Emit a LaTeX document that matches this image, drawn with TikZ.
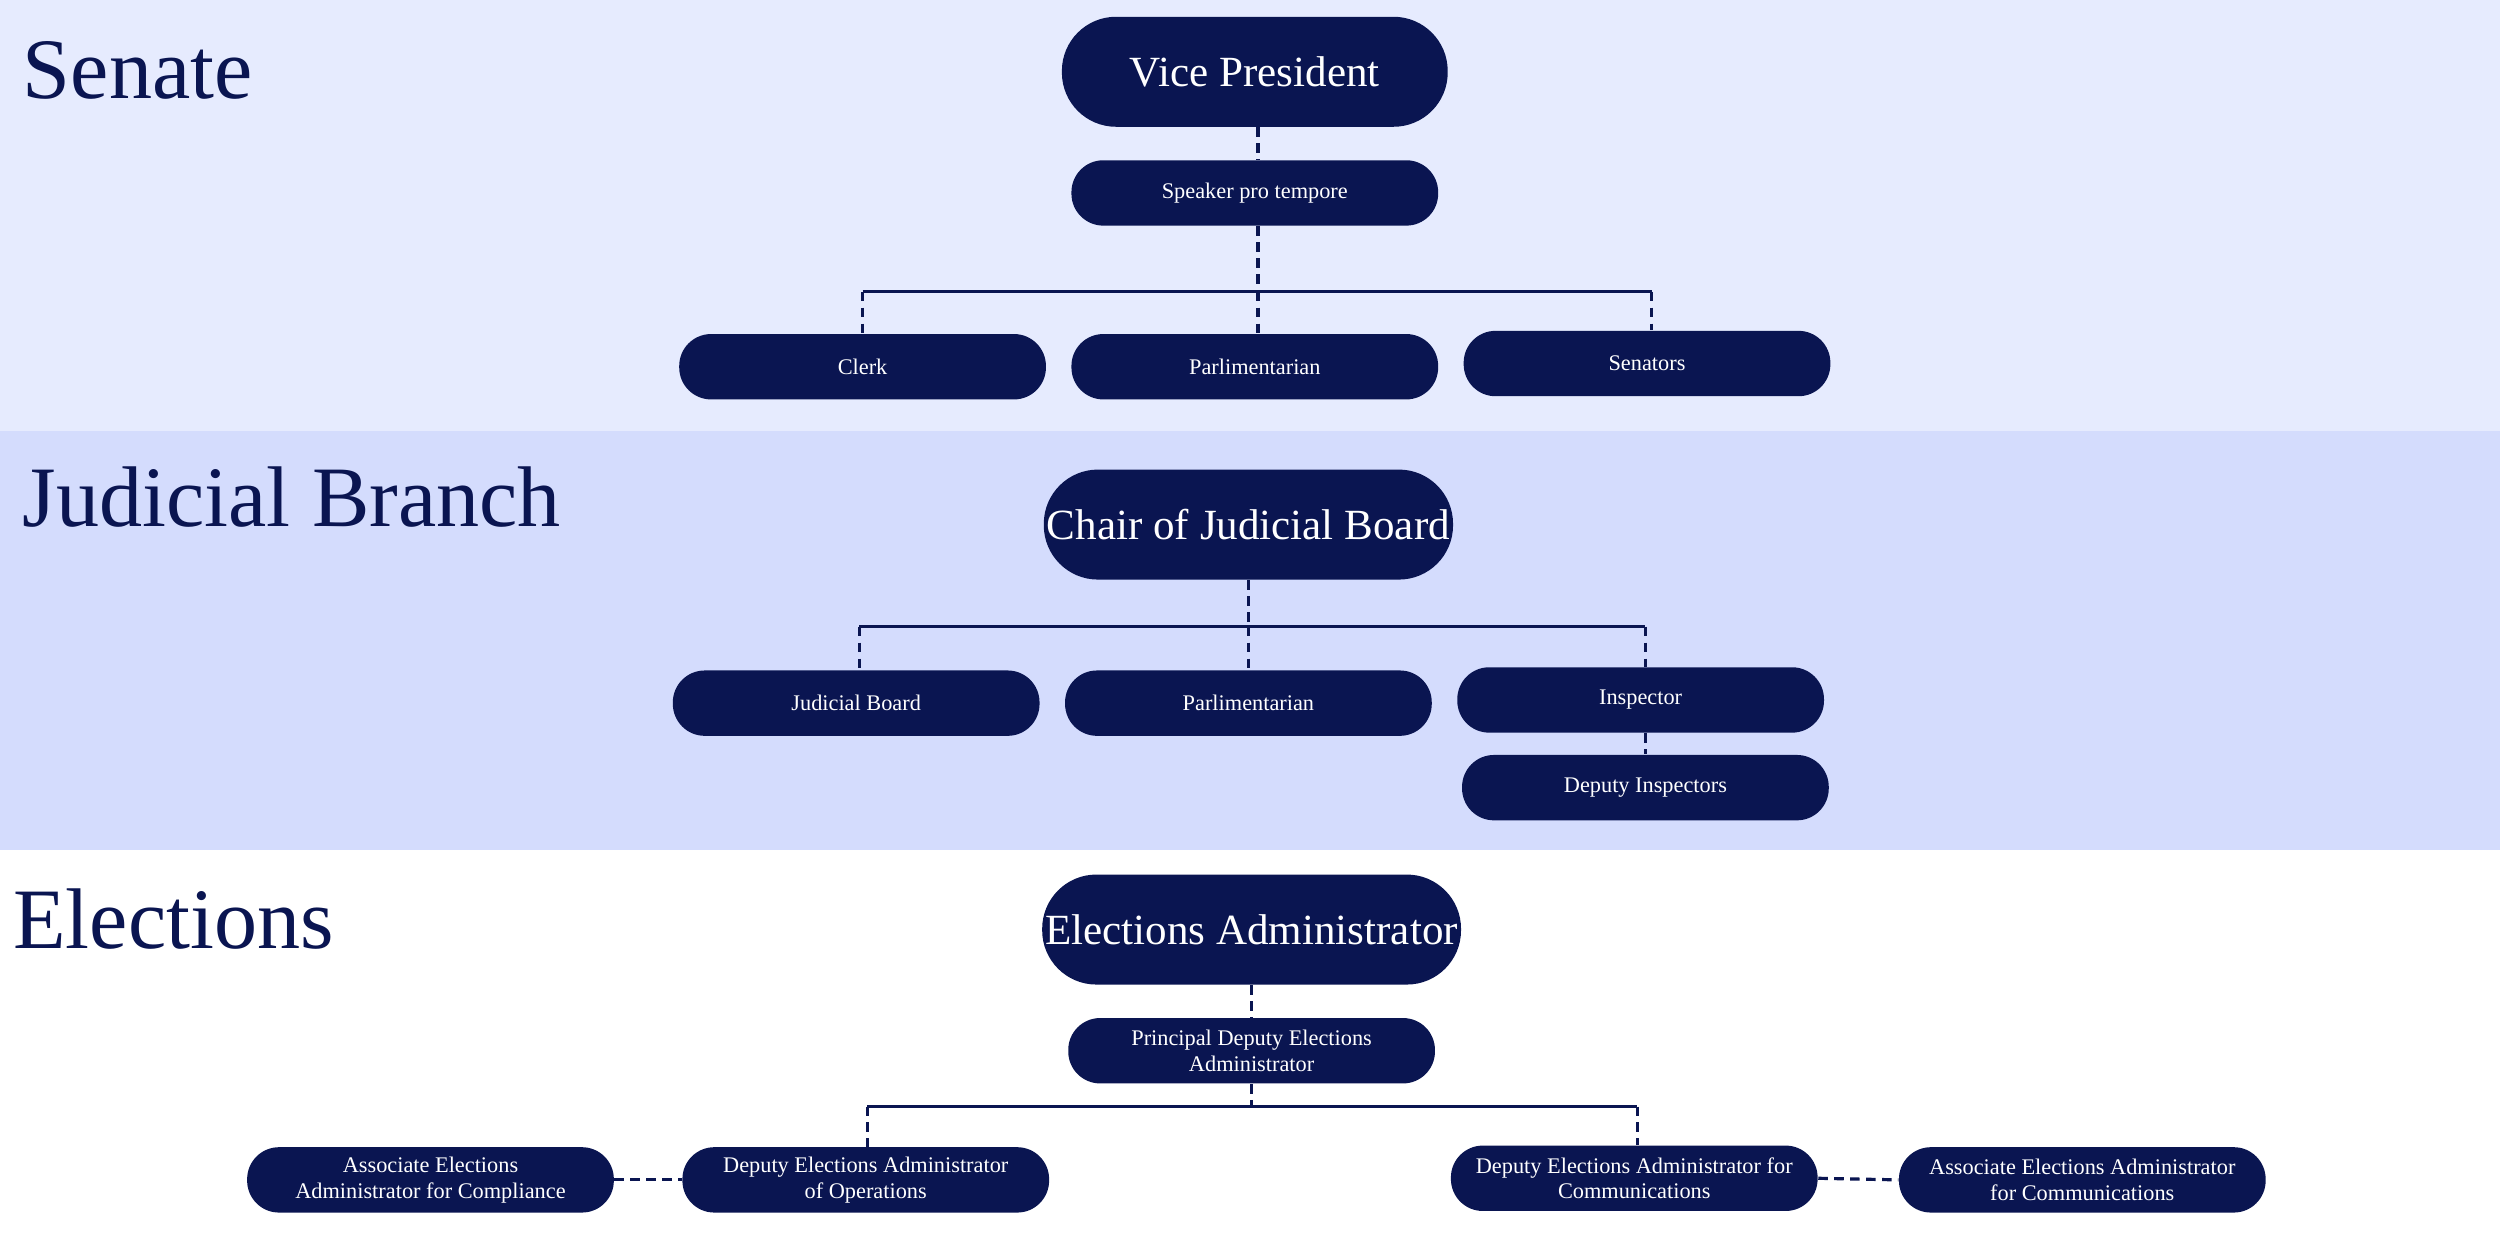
\documentclass[tikz,border=0pt]{standalone}
\usepackage{fontspec}
\setmainfont{Liberation Serif}
\definecolor{navy}{HTML}{0A1551}
\definecolor{bandA}{HTML}{E6EBFE}
\definecolor{bandB}{HTML}{D4DCFD}
\begin{document}
\begin{tikzpicture}[x=0.5pt,y=-0.5pt,
  box/.style={fill=navy,text=white,rounded corners=10pt,minimum width=115pt,minimum height=20.5pt,inner sep=1pt,font=\fontsize{7}{8}\selectfont,align=center},
  big/.style={fill=navy,text=white,rounded corners=17pt,minimum width=121pt,minimum height=34.5pt,inner sep=1pt,font=\fontsize{13.5}{15}\selectfont},
  head/.style={text=navy,anchor=base west,inner sep=0pt,font=\fontsize{27}{30}\selectfont},
  ln/.style={draw=navy,line width=1pt},
  dl/.style={ln,dash pattern=on 3pt off 2pt}]
\useasboundingbox (0,0) rectangle (1568,784);
\fill[bandA] (0,0) rectangle (1568,270);
\fill[bandB] (0,270) rectangle (1568,533);
\node[head] (hs) at (14,62) {Senate};
\node[head] (hj) at (14,330) {Judicial Branch};
\node[head] (he) at (8,595) {Elections};
% Senate
\node[big] (vp) at (787,45) {Vice President};
\node[box] (sp) at (787,121) {Speaker pro tempore};
\node[box] (cl) at (541,230) {Clerk};
\node[box] (pa) at (787,230) {Parlimentarian};
\node[box] (se) at (1033,228) {Senators};
\coordinate (s0) at (789,183);
\coordinate (s1) at (541,183);
\coordinate (s2) at (1036,183);
\draw[dl] (vp.south -| s0) -- (sp.north -| s0);
\draw[dl] (sp.south -| s0) -- (s0);
\draw[ln] (s1) -- (s2);
\draw[dl] (s1) -- (cl.north -| s1);
\draw[dl] (s0) -- (pa.north -| s0);
\draw[dl] (s2) -- (se.north -| s2);
% Judicial
\node[big] (ch) at (783,329) {Chair of Judicial Board};
\node[box] (jb) at (537,441) {Judicial Board};
\node[box] (jp) at (783,441) {Parlimentarian};
\node[box] (in) at (1029,439) {Inspector};
\node[box] (di) at (1032,494) {Deputy Inspectors};
\coordinate (j0) at (783,393);
\coordinate (j1) at (539,393);
\coordinate (j2) at (1032,393);
\draw[dl] (ch.south) -- (j0);
\draw[ln] (j1) -- (j2);
\draw[dl] (j1) -- (jb.north -| j1);
\draw[dl] (j0) -- (jp.north);
\draw[dl] (j2) -- (in.north -| j2);
\draw[dl] (in.south -| j2) -- (di.north -| j2);
% Elections
\node[big] (ea) at (785,583) {Elections Administrator};
\node[box] (pd) at (785,659) {Principal Deputy Elections\\Administrator};
\node[box] (dop) at (543,740) {Deputy Elections Administrator\\of Operations};
\node[box] (dco) at (1025,739) {Deputy Elections Administrator for\\Communications};
\node[box] (acp) at (270,740) {Associate Elections\\Administrator for Compliance};
\node[box] (acm) at (1306,740) {Associate Elections Administrator\\for Communications};
\coordinate (e0) at (785,694);
\coordinate (e1) at (544,694);
\coordinate (e2) at (1027,694);
\draw[dl] (ea.south) -- (pd.north);
\draw[dl] (pd.south) -- (e0);
\draw[ln] (e1) -- (e2);
\draw[dl] (e1) -- (dop.north -| e1);
\draw[dl] (e2) -- (dco.north -| e2);
\draw[dl] (acp.east) -- (dop.west);
\draw[dl] (dco.east) -- (acm.west);
\end{tikzpicture}
\end{document}
